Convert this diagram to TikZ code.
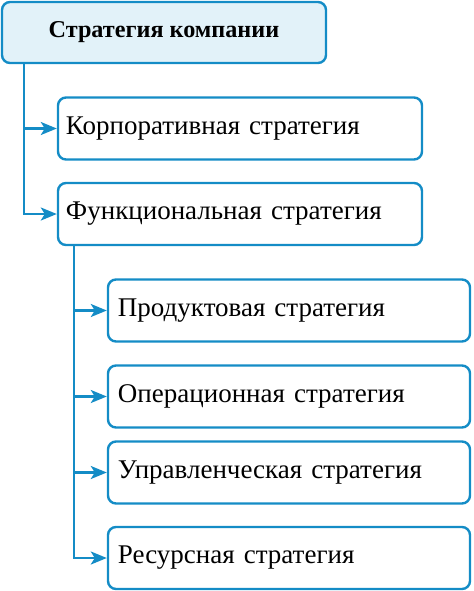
\documentclass[tikz,border=0pt]{standalone}
\usepackage{fontspec}
\setmainfont{Liberation Serif}
\usepackage{tikz}
\usetikzlibrary{positioning,calc,arrows.meta}
\definecolor{lineblue}{RGB}{20,140,198}
\definecolor{paleblue}{RGB}{226,242,249}
\tikzstyle{topbox} = [rectangle, rounded corners=4pt, minimum width=162pt, minimum height=30.5pt, text centered, line width=1.2pt, draw=lineblue, fill=paleblue, font=\fontsize{12.1}{14}\selectfont\bfseries]
\tikzstyle{levelone} = [rectangle, rounded corners=4pt, minimum width=182pt, minimum height=31pt, inner xsep=4pt, text width=174pt, align=left, line width=1.2pt, draw=lineblue, fill=white, font=\fontsize{13.5}{15}\selectfont]
\tikzstyle{leveltwo} = [levelone, minimum width=181pt, inner xsep=5pt, text width=171pt]
\tikzstyle{arrow} = [line width=1.2pt, draw=lineblue, -{Stealth[length=8pt,width=6.5pt,inset=2pt]}]

\begin{document}
\begin{tikzpicture}[node distance=43pt]
\useasboundingbox (0,0) rectangle (237pt,-295.5pt);

\node (title) [topbox] at (82pt,-16.25pt) {Стратегия компании};

\node (corp) [levelone, below of=title, node distance=48pt, xshift=38pt] {Корпоративная стратегия};
\node (func) [levelone, below of=corp, node distance=42.75pt] {Функциональная стратегия};

\node (prod) [leveltwo, below of=func, node distance=48.25pt, xshift=24.5pt] {Продуктовая стратегия};
\node (oper) [leveltwo, below of=prod] {Операционная стратегия};
\node (mgmt) [leveltwo, below of=oper, node distance=38pt] {Управленческая стратегия};
\node (res) [leveltwo, below of=mgmt, node distance=42.75pt] {Ресурсная стратегия};

%arrows
\coordinate (trunkA) at ([xshift=11.5pt]title.south west);
\coordinate (trunkB) at ([xshift=8.5pt]func.south west);
\draw [arrow] (trunkA) |- (corp);
\draw [arrow] (trunkA) |- (func);
\draw [arrow] (trunkB) |- (prod);
\draw [arrow] (trunkB) |- (oper);
\draw [arrow] (trunkB) |- (mgmt);
\draw [arrow] (trunkB) |- (res);

\end{tikzpicture}
\end{document}
